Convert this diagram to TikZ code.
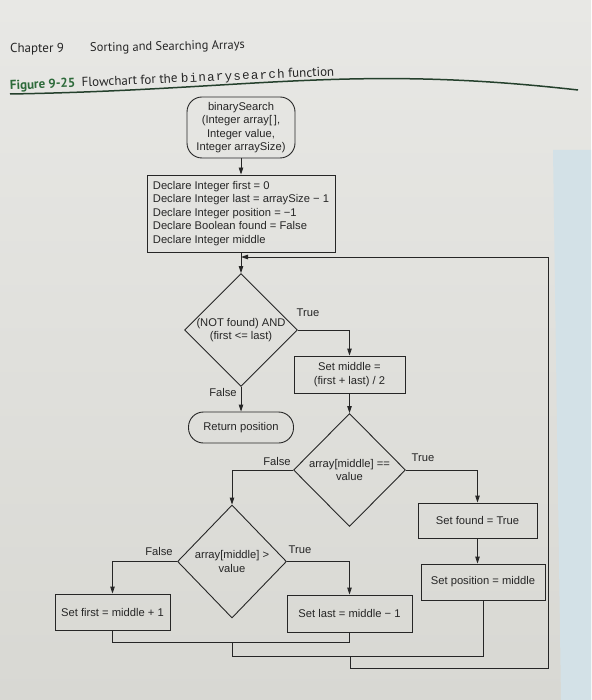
\documentclass[tikz,border=0pt]{standalone}
\usepackage{fontspec}
\setmainfont{Liberation Sans}
\newfontfamily\hdrfont{PT Sans}
\newfontfamily\codefont[LetterSpace=10]{Liberation Mono}
\usetikzlibrary{shapes.geometric,arrows.meta}
\definecolor{paperA}{HTML}{E8E8E5}
\definecolor{paperB}{HTML}{D8D8D3}
\definecolor{edgeblue}{HTML}{D3E1E7}
\definecolor{ink}{HTML}{262626}
\definecolor{figgreen}{HTML}{2D6A3A}
\definecolor{rulegreen}{HTML}{24402C}
\begin{document}
\begin{tikzpicture}[x=1pt,y=-1pt,
  txt/.style={font=\fontsize{11.2}{13.5}\selectfont, text=ink},
  boxnode/.style={txt, draw=ink, line width=0.9pt, rectangle, inner sep=0pt, align=center},
  termnode/.style={txt, draw=ink, line width=0.9pt, rectangle, rounded corners=15pt, inner sep=0pt, align=center},
  decnode/.style={txt, draw=ink, line width=0.9pt, diamond, aspect=1, inner sep=0pt, align=center},
  flow/.style={draw=ink, line width=0.9pt},
  arr/.style={flow, -{Triangle[length=7pt,width=4.5pt]}},
  lbl/.style={txt, inner sep=0pt},
  hdr/.style={font=\hdrfont\fontsize{12.5}{14}\selectfont, text=ink, inner sep=0pt, anchor=base west}
]
\useasboundingbox (0,0) rectangle (591,700);
\shade[top color=paperA, bottom color=paperB] (0,0) rectangle (591,700);
\fill[edgeblue] (553,150) -- (591,150) -- (591,700) -- (561,700) -- cycle;

% header
\node[hdr, font=\hdrfont\fontsize{13}{15}\selectfont] (chap) at (10,53) {Chapter 9};
\node[hdr, rotate=1.2] (sect) at (90,52) {Sorting and Searching Arrays};
\node[hdr, rotate=2.5, font=\hdrfont\fontsize{13}{15}\selectfont] (fig) at (10,90)
  {\textcolor{figgreen}{\bfseries Figure 9-25}\enspace Flowchart for the {\codefont\fontsize{12.5}{14}\selectfont binarysearch} function};
\draw[rulegreen, line width=1.5pt] (10,94) .. controls (250,90) and (350,64) .. (578,90);

% nodes
\node[termnode, minimum width=108pt, minimum height=61pt] (start) at (241,127.5)
  {binarySearch\\(Integer array[\,],\\Integer value,\\Integer arraySize)};
\node[boxnode, align=left, minimum width=188pt, minimum height=77pt] (decl) at (241,213.5)
  {Declare Integer first = 0\\Declare Integer last = arraySize − 1\\Declare Integer position = −1\\Declare Boolean found = False\\Declare Integer middle};
\node[decnode, minimum width=107pt, minimum height=106pt] (d1) at (241,330) {(NOT found) AND\\(first <= last)};
\node[boxnode, minimum width=111pt, minimum height=37pt] (smid) at (349.5,374.5) {Set middle =\\(first + last) / 2};
\node[termnode, minimum width=105pt, minimum height=31pt] (ret) at (241,427.5) {Return position};
\node[decnode, minimum width=112pt, minimum height=113pt] (d2) at (349.5,470) {array[middle] ==\\value};
\node[boxnode, minimum width=119pt, minimum height=35pt] (sfound) at (477.5,520.5) {Set found = True};
\node[boxnode, minimum width=124pt, minimum height=36pt] (spos) at (483,582) {Set position = middle};
\node[decnode, minimum width=109pt, minimum height=113pt] (d3) at (232,561.5) {array[middle] >\\value};
\node[boxnode, minimum width=115pt, minimum height=36pt] (sfirst) at (112.5,612) {Set first = middle + 1};
\node[boxnode, minimum width=125pt, minimum height=37pt] (slast) at (349.5,613.5) {Set last = middle − 1};

% labels
\node[lbl] (t1) at (308,313) {True};
\node[lbl] (f1) at (223,392) {False};
\node[lbl] (f2) at (277,461) {False};
\node[lbl] (t2) at (423,458) {True};
\node[lbl] (f3) at (159,551) {False};
\node[lbl] (t3) at (300,550) {True};

% connectors
\draw[arr] (start.south) -- (decl.north);
\draw[arr] (decl.south) -- (d1.north);
\draw[arr] (d1.east) -| (smid.north);
\draw[arr] (d1.south) -- (ret.north);
\draw[arr] (smid.south) -- (d2.north);
\draw[arr] (d2.west) -| (d3.north);
\draw[arr] (d2.east) -| (sfound.north);
\draw[arr] (sfound.south) -- (sfound.south |- spos.north);
\draw[arr] (d3.west) -| (sfirst.north);
\draw[arr] (d3.east) -| (slast.north);
\draw[flow] (sfirst.south) -- ++(0,12) -| (slast.south);
\coordinate (j1) at (232,642);
\draw[flow] (j1) -- ++(0,14) -| (spos.south);
\coordinate (j2) at (350,656);
\coordinate (lc) at (548,668);
\coordinate (lt) at (548,257);
\draw[arr] (j2) |- (lc) -- (lt) -- (lt -| d1.north);
\end{tikzpicture}
\end{document}
